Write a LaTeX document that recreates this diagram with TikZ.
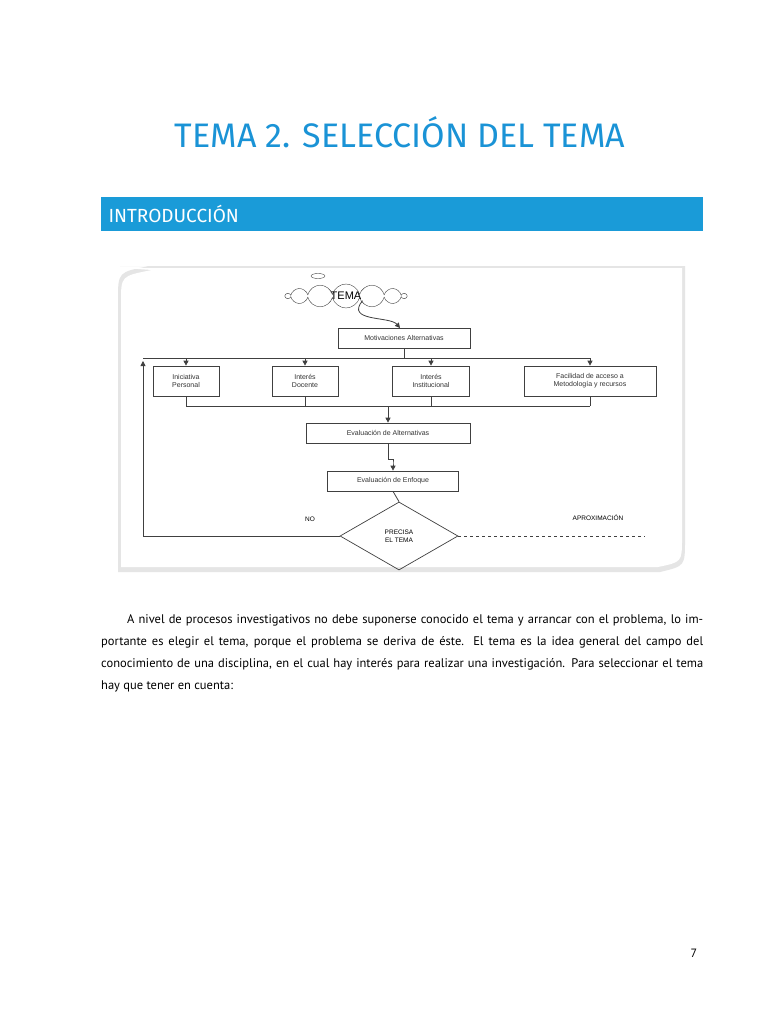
\documentclass[tikz,border=0pt]{standalone}
\usepackage{fontspec}
\setmainfont{Liberation Sans}
\newfontfamily\titlefont{Fira Sans}
\newfontfamily\bodyfont{PT Sans}
\usetikzlibrary{shapes.geometric,shapes.symbols,arrows.meta}
\definecolor{tblue}{HTML}{1A93D6}
\definecolor{bbar}{HTML}{1A9BD8}
\begin{document}
\begin{tikzpicture}[x=1pt,y=-1pt,
  box/.style={draw=black!75,line width=0.7pt,minimum height=20pt,inner sep=1pt,font=\fontsize{7}{8}\selectfont,align=center,text=black!80},
  con/.style={draw=black!75,line width=0.8pt},
  arr/.style={con,-{Triangle[length=5pt,width=5pt]}}]
\useasboundingbox (0,0) rectangle (768,1024);
\fill[white] (0,0) rectangle (768,1024);
\node[text=tblue,font=\titlefont\fontsize{34}{40}\selectfont] (title) at (400,132) {TEMA 2. SELECCIÓN DEL TEMA};
\fill[bbar] (101,197) rectangle (703,231);
\node[anchor=west,text=white,font=\titlefont\fontsize{19}{22}\selectfont] (intro) at (105,214) {INTRODUCCIÓN};
% panel
\fill[black!10] (120,266) -- (685,266) -- (685,540) .. controls (685,566) .. (660,572) -- (118,572) -- (118,300) .. controls (118,272) .. (150,266) -- cycle;
\fill[white] (124,268) -- (682,268) -- (682,538) .. controls (682,562) .. (658,567) -- (121,567) -- (121,302) .. controls (121,276) .. (152,270) -- cycle;
\node[cloud,draw=black!75,cloud puffs=14,aspect=4.5,minimum width=120pt,minimum height=24pt,inner sep=0pt,font=\fontsize{11}{12}\selectfont] (tema) at (346,296) {TEMA};
\draw[black!70] (318,276) ellipse (7pt and 2.5pt);
\node[box,minimum width=132pt] (mot) at (404,338) {Motivaciones Alternativas};
\node[box,minimum width=66pt,minimum height=30pt] (b1) at (186,381) {Iniciativa\\Personal};
\node[box,minimum width=66pt,minimum height=30pt] (b2) at (305,381) {Interés\\Docente};
\node[box,minimum width=77pt,minimum height=30pt] (b3) at (431,381) {Interés\\Institucional};
\node[box,minimum width=132pt,minimum height=30pt] (b4) at (590,381) {Facilidad de acceso a\\Metodología y recursos};
\node[box,minimum width=164pt] (ea) at (388,433) {Evaluación de Alternativas};
\node[box,minimum width=131pt] (ee) at (393,481) {Evaluación de Enfoque};
\node[diamond,draw=black!75,line width=0.7pt,aspect=1.75,minimum width=118pt,minimum height=68pt,inner sep=0pt,align=center,font=\fontsize{6.5}{7.5}\selectfont] (dec) at (399,536) {PRECISA\\EL TEMA};
\coordinate (h1) at (143,358);
\coordinate (hm) at (404,358);
\coordinate (hl) at (143,536);
\coordinate (ap) at (645,536);
\coordinate (bm) at (388,406);
\draw[arr] (tema.south west) ++(30,2) .. controls (345,322) and (390,316) .. (400,328);
\draw[con] (mot.south) -- (hm);
\draw[con] (h1) -- (b4.north |- h1);
\foreach \b in {b1,b2,b3,b4} \draw[arr] (\b.north |- h1) -- (\b.north);
\foreach \b in {b1,b2,b3,b4} \draw[con] (\b.south) -- (\b.south |- bm);
\draw[con] (b1.south |- bm) -- (b4.south |- bm);
\draw[arr] (bm) -- (ea.north);
\draw[arr] (ea.south) -- ++(0,16) -- ++(5,0) |- ++(0,4) -- (ee.north);
\draw[con] (ee.south) -- (dec.north);
\draw[arr] (dec.west) -- (hl) -- (143,361);
\draw[con,dashed] (dec.east) -- (ap);
\node[font=\fontsize{6.5}{7}\selectfont] (no) at (310,519) {NO};
\node[font=\fontsize{6.5}{7}\selectfont] (apx) at (598,518) {APROXIMACIÓN};
\node[anchor=north west,text width=602pt,align=justify,font=\bodyfont\fontsize{12.5}{22}\selectfont,inner sep=0pt] (para) at (101,614) {\hspace*{26pt}A nivel de procesos investigativos no debe suponerse conocido el tema y arrancar con el problema, lo importante es elegir el tema, porque el problema se deriva de éste. El tema es la idea general del campo del conocimiento de una disciplina, en el cual hay interés para realizar una investigación. Para seleccionar el tema hay que tener en cuenta:};
\node[font=\bodyfont\fontsize{12}{14}\selectfont] (pg) at (694,953) {7};
\end{tikzpicture}
\end{document}
